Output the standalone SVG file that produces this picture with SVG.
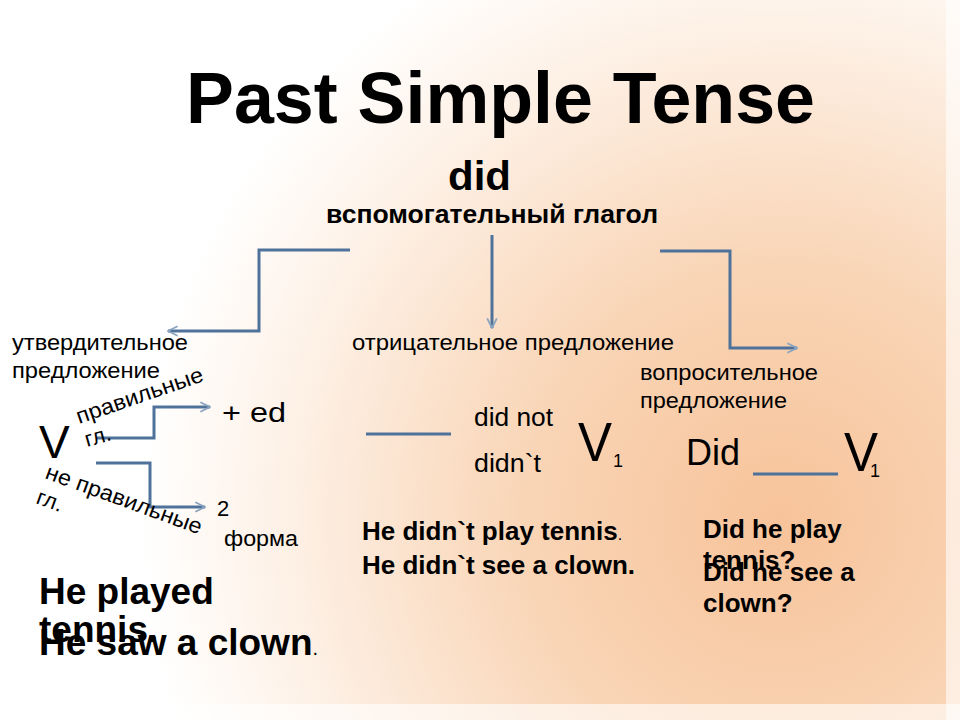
<svg xmlns="http://www.w3.org/2000/svg" width="960" height="720" viewBox="0 0 960 720">
<defs>
<radialGradient id="bg" gradientUnits="userSpaceOnUse" cx="780" cy="520" r="640" fx="780" fy="520">
<stop offset="0" stop-color="#f7c39a"/>
<stop offset="0.4" stop-color="#f9d5b6"/>
<stop offset="0.75" stop-color="#fdefe3"/>
<stop offset="1" stop-color="#ffffff"/>
</radialGradient>
<marker id="arr" viewBox="0 0 10 10" refX="9" refY="5" markerWidth="4" markerHeight="4" orient="auto" markerUnits="strokeWidth">
<path d="M1,1 L9,5 L1,9" fill="none" stroke="#8aa3bf" stroke-width="1.5"/>
</marker>
<style>
.t{font-family:"Liberation Sans",Arial,sans-serif;fill:#000}
.b{font-weight:bold}
.c{fill:none;stroke:#4f729a;stroke-width:3}
</style>
</defs>
<rect width="960" height="720" fill="url(#bg)"/>
<rect x="946" y="0" width="14" height="720" fill="#ffffff" opacity="0.6"/>
<rect x="0" y="704" width="960" height="16" fill="#ffffff" opacity="0.6"/>

<g id="title"><text class="t b" x="186" y="123" font-size="72" textLength="629" lengthAdjust="spacingAndGlyphs">Past Simple Tense</text></g>
<g id="did"><text class="t b" x="448" y="190" font-size="40" textLength="63" lengthAdjust="spacingAndGlyphs">did</text>
<text class="t b" x="326" y="223" font-size="25" textLength="332" lengthAdjust="spacingAndGlyphs">вспомогательный глагол</text></g>

<g id="connectors">
<polyline class="c" points="350,250 259,250 259,331 168,331" marker-end="url(#arr)"/>
<line class="c" x1="492" y1="235" x2="492" y2="328" marker-end="url(#arr)"/>
<polyline class="c" points="660,251 730,251 730,348 797,348" marker-end="url(#arr)"/>
<polyline class="c" points="97,438 154,438 154,407 210,407" marker-end="url(#arr)"/>
<polyline class="c" points="96,463 150,463 150,507 205,507" marker-end="url(#arr)"/>
<line class="c" x1="366" y1="434" x2="451" y2="434"/>
<line class="c" x1="753" y1="474" x2="838" y2="474"/>
</g>

<g id="affirmative">
<text class="t" x="12" y="350" font-size="22" textLength="176" lengthAdjust="spacingAndGlyphs">утвердительное</text>
<text class="t" x="12" y="378" font-size="22" textLength="148" lengthAdjust="spacingAndGlyphs">предложение</text>
<text class="t" x="39" y="458" font-size="46">V</text>
<text class="t" font-size="22" transform="translate(79,424) rotate(-19)" textLength="133" lengthAdjust="spacingAndGlyphs">правильные</text>
<text class="t" font-size="22" transform="translate(87,447) rotate(-16)">гл.</text>
<text class="t" font-size="22" transform="translate(44,478) rotate(20)" textLength="165" lengthAdjust="spacingAndGlyphs">не правильные</text>
<text class="t" font-size="22" transform="translate(35,503) rotate(20)">гл.</text>
<text class="t" x="222" y="422" font-size="27" textLength="64" lengthAdjust="spacingAndGlyphs">+ ed</text>
<text class="t" x="217" y="516" font-size="22">2</text>
<text class="t" x="224" y="546" font-size="22" textLength="74" lengthAdjust="spacingAndGlyphs">форма</text>
<text class="t b" x="39" y="604" font-size="37">He played</text>
<text class="t b" x="39" y="642" font-size="37">tennis.</text>
<text class="t b" x="39" y="655" font-size="37">He saw a clown<tspan font-weight="normal" font-size="20">.</tspan></text>
</g>

<g id="negative">
<text class="t" x="352" y="350" font-size="22" textLength="322" lengthAdjust="spacingAndGlyphs">отрицательное предложение</text>
<text class="t" x="474" y="426" font-size="25" textLength="79" lengthAdjust="spacingAndGlyphs">did not</text>
<text class="t" x="474" y="472" font-size="25" textLength="67" lengthAdjust="spacingAndGlyphs">didn`t</text>
<text class="t" x="578" y="461" font-size="56" textLength="34" lengthAdjust="spacingAndGlyphs">V</text>
<text class="t" x="613" y="467" font-size="18">1</text>
<text class="t b" x="362" y="540" font-size="26">He didn`t play tennis<tspan font-weight="normal" font-size="16">.</tspan></text>
<text class="t b" x="362" y="574" font-size="26">He didn`t see a clown.</text>
</g>

<g id="interrogative">
<text class="t" x="640" y="380" font-size="22" textLength="178" lengthAdjust="spacingAndGlyphs">вопросительное</text>
<text class="t" x="640" y="408" font-size="22" textLength="147" lengthAdjust="spacingAndGlyphs">предложение</text>
<text class="t" x="686" y="465" font-size="36">Did</text>
<text class="t" x="844" y="471" font-size="56" textLength="34" lengthAdjust="spacingAndGlyphs">V</text>
<text class="t" x="870" y="477" font-size="18">1</text>
<text class="t b" x="703" y="538" font-size="26">Did he play</text>
<text class="t b" x="703" y="569" font-size="26">tennis?</text>
<text class="t b" x="703" y="581" font-size="26">Did he see a</text>
<text class="t b" x="703" y="612" font-size="26">clown?</text>
</g>
</svg>
